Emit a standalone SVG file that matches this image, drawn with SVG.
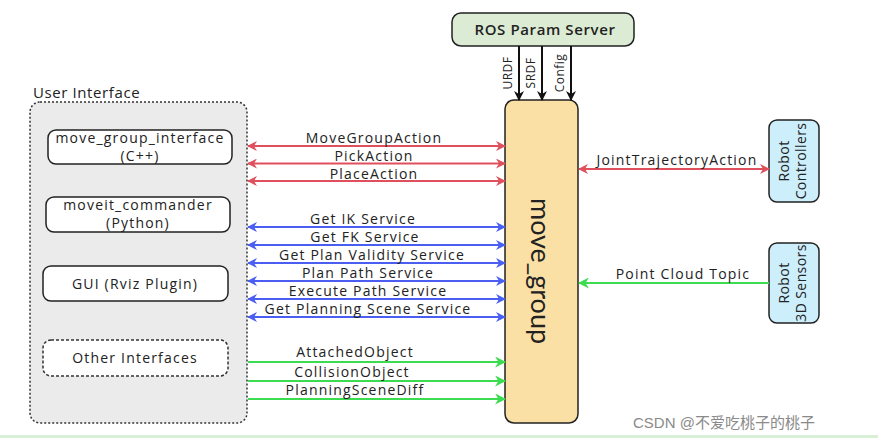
<svg xmlns="http://www.w3.org/2000/svg" width="878" height="439" viewBox="0 0 878 439">
<style>
text{font-family:"Open Sans",Lato,"DejaVu Sans",sans-serif;fill:#222;}
.lbl{font-size:14px;text-anchor:middle;letter-spacing:1.2px;}
.box{stroke:#222;stroke-width:1.5;}
.red{stroke:#e0505c;stroke-width:2;fill:none;}
.blue{stroke:#4a5ff2;stroke-width:2;fill:none;}
.green{stroke:#3cdc50;stroke-width:2.2;fill:none;}
.blk{stroke:#111;stroke-width:2;fill:none;}
</style>
<defs>
<marker id="ar" viewBox="0 0 10 10" refX="9" refY="5" markerWidth="5" markerHeight="5" orient="auto-start-reverse" markerUnits="strokeWidth"><path d="M0,0 L10,5 L0,10 L3,5 z" fill="#e0505c"/></marker>
<marker id="ab" viewBox="0 0 10 10" refX="9" refY="5" markerWidth="5" markerHeight="5" orient="auto-start-reverse" markerUnits="strokeWidth"><path d="M0,0 L10,5 L0,10 L3,5 z" fill="#4a5ff2"/></marker>
<marker id="ag" viewBox="0 0 10 10" refX="9" refY="5" markerWidth="5" markerHeight="5" orient="auto-start-reverse" markerUnits="strokeWidth"><path d="M0,0 L10,5 L0,10 L3,5 z" fill="#3cdc50"/></marker>
<marker id="ak" viewBox="0 0 10 10" refX="9" refY="5" markerWidth="5" markerHeight="5" orient="auto" markerUnits="strokeWidth"><path d="M0,0 L10,5 L0,10 L3,5 z" fill="#111"/></marker>
</defs>
<rect width="878" height="439" fill="#fff"/>
<line x1="0" y1="436.5" x2="878" y2="436.5" stroke="#d6efd6" stroke-width="3"/>

<g id="user-interface">
<rect x="30" y="102" width="217" height="321" rx="10" fill="#ebebeb" stroke="#333" stroke-width="1.5" stroke-dasharray="2,2"/>
<text x="33" y="98" style="font-size:15px;letter-spacing:0.6px">User Interface</text>
</g>
<g id="move-group-interface">
<rect class="box" x="48" y="130" width="184" height="34" rx="8" fill="#fff"/>
<text class="lbl" x="140" y="142.5">move_group_interface</text>
<text class="lbl" x="140" y="160.5">(C++)</text>
</g>
<g id="moveit-commander">
<rect class="box" x="46" y="197" width="184" height="35" rx="8" fill="#fff"/>
<text class="lbl" x="138" y="210">moveit_commander</text>
<text class="lbl" x="138" y="228">(Python)</text>
</g>
<g id="gui">
<rect class="box" x="43" y="266" width="185" height="35" rx="8" fill="#fff"/>
<text class="lbl" x="135" y="289">GUI (Rviz Plugin)</text>
</g>
<g id="other-interfaces">
<rect x="43" y="340" width="185" height="36" rx="8" fill="#fff" stroke="#333" stroke-width="1.5" stroke-dasharray="3,2"/>
<text class="lbl" x="135" y="363">Other Interfaces</text>
</g>

<g id="ros-param-server">
<rect class="box" x="452" y="13" width="182" height="33" rx="9" fill="#dcebd3"/>
<text class="lbl" x="545" y="35" style="font-size:15px;font-weight:600;letter-spacing:0.6px">ROS Param Server</text>
</g>
<g id="move-group">
<rect class="box" x="505" y="100" width="73" height="323" rx="9" fill="#fbe0a5"/>
<text x="541" y="271" transform="rotate(90 541 271)" style="font-family:Lato,'Open Sans',sans-serif;font-size:27px;text-anchor:middle;dominant-baseline:central">move_group</text>
</g>
<g id="robot-controllers">
<rect class="box" x="769" y="120" width="50" height="82" rx="8" fill="#cdeefb"/>
<text class="lbl" transform="translate(789 161) rotate(-90)" style="font-size:14px;letter-spacing:0.4px">Robot</text>
<text class="lbl" transform="translate(806 161) rotate(-90)" style="font-size:14px;letter-spacing:0.4px">Controllers</text>
</g>
<g id="robot-3d-sensors">
<rect class="box" x="769" y="243" width="50" height="80" rx="8" fill="#cdeefb"/>
<text class="lbl" transform="translate(789 283) rotate(-90)" style="font-size:14px;letter-spacing:0.4px">Robot</text>
<text class="lbl" transform="translate(806 283) rotate(-90)" style="font-size:14px;letter-spacing:0.4px">3D Sensors</text>
</g>

<g id="connectors">
<line class="blk" x1="519" y1="46" x2="519" y2="100" marker-end="url(#ak)"/>
<line class="blk" x1="542" y1="46" x2="542" y2="100" marker-end="url(#ak)"/>
<line class="blk" x1="571" y1="46" x2="571" y2="100" marker-end="url(#ak)"/>
<text class="lbl" transform="translate(512 73) rotate(-90)" style="font-size:12px;letter-spacing:0.5px">URDF</text>
<text class="lbl" transform="translate(535 73) rotate(-90)" style="font-size:12px;letter-spacing:0.5px">SRDF</text>
<text class="lbl" transform="translate(564 73) rotate(-90)" style="font-size:12px;letter-spacing:0.5px">Config</text>

<line class="red" x1="248" y1="146" x2="505" y2="146" marker-start="url(#ar)" marker-end="url(#ar)"/>
<line class="red" x1="248" y1="163.5" x2="505" y2="163.5" marker-start="url(#ar)" marker-end="url(#ar)"/>
<line class="red" x1="248" y1="181" x2="505" y2="181" marker-start="url(#ar)" marker-end="url(#ar)"/>
<text class="lbl" x="374" y="143">MoveGroupAction</text>
<text class="lbl" x="374" y="161">PickAction</text>
<text class="lbl" x="374" y="178.5">PlaceAction</text>

<line class="blue" x1="248" y1="227" x2="505" y2="227" marker-start="url(#ab)" marker-end="url(#ab)"/>
<line class="blue" x1="248" y1="245" x2="505" y2="245" marker-start="url(#ab)" marker-end="url(#ab)"/>
<line class="blue" x1="248" y1="263" x2="505" y2="263" marker-start="url(#ab)" marker-end="url(#ab)"/>
<line class="blue" x1="248" y1="281" x2="505" y2="281" marker-start="url(#ab)" marker-end="url(#ab)"/>
<line class="blue" x1="248" y1="299" x2="505" y2="299" marker-start="url(#ab)" marker-end="url(#ab)"/>
<line class="blue" x1="248" y1="317" x2="505" y2="317" marker-start="url(#ab)" marker-end="url(#ab)"/>
<text class="lbl" x="363" y="224">Get IK Service</text>
<text class="lbl" x="365" y="242">Get FK Service</text>
<text class="lbl" x="372" y="260">Get Plan Validity Service</text>
<text class="lbl" x="368" y="278">Plan Path Service</text>
<text class="lbl" x="368" y="296">Execute Path Service</text>
<text class="lbl" x="368" y="314">Get Planning Scene Service</text>

<line class="green" x1="248" y1="362" x2="505" y2="362" marker-end="url(#ag)"/>
<line class="green" x1="248" y1="381" x2="505" y2="381" marker-end="url(#ag)"/>
<line class="green" x1="248" y1="399" x2="505" y2="399" marker-end="url(#ag)"/>
<text class="lbl" x="355" y="357">AttachedObject</text>
<text class="lbl" x="352" y="377">CollisionObject</text>
<text class="lbl" x="355" y="395">PlanningSceneDiff</text>

<line class="red" x1="579" y1="169" x2="769" y2="169" marker-start="url(#ar)" marker-end="url(#ar)"/>
<text class="lbl" x="677" y="165">JointTrajectoryAction</text>
<line class="green" x1="769" y1="283" x2="579" y2="283" marker-end="url(#ag)"/>
<text class="lbl" x="683" y="279">Point Cloud Topic</text>
</g>

<text x="633" y="428" style="font-family:'Liberation Sans','Noto Sans CJK SC',sans-serif;font-size:15px;fill:#8a8a8a">CSDN @不爱吃桃子的桃子</text>
</svg>
